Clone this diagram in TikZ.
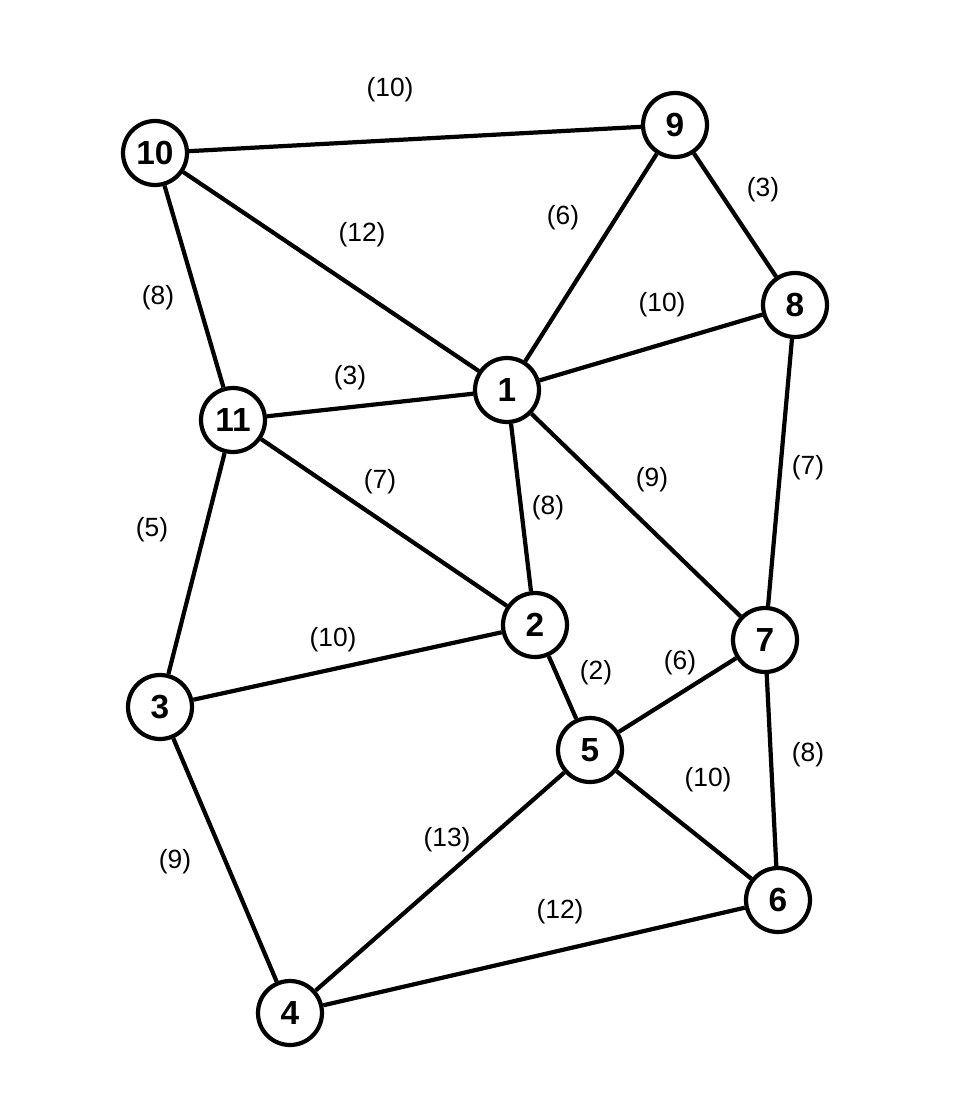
\documentclass[tikz,border=0pt]{standalone}
\usepackage{fontspec}
\setmainfont{Liberation Sans}
\begin{document}
\begin{tikzpicture}[x=0.02cm,y=-0.02cm,
  vtx/.style={circle,draw,line width=2.4pt,minimum size=1.28cm,inner sep=0pt,font=\fontsize{19}{19}\selectfont\bfseries,fill=white},
  lbl/.style={font=\fontsize{15}{15}\selectfont},
  edge/.style={line width=2.4pt}]
\useasboundingbox (0,0) rectangle (963,1095);
\node[vtx] (n10) at (155,153) {10};
\node[vtx] (n9) at (675,125) {9};
\node[vtx] (n8) at (795,305) {8};
\node[vtx] (n1) at (507,390) {1};
\node[vtx] (n11) at (233,420) {11};
\node[vtx] (n2) at (535,625) {2};
\node[vtx] (n7) at (765,640) {7};
\node[vtx] (n3) at (160,707) {3};
\node[vtx] (n5) at (590,750) {5};
\node[vtx] (n6) at (778,900) {6};
\node[vtx] (n4) at (290,1013) {4};
\begin{scope}[on background layer/.style={}]
\foreach \a/\b in {n10/n9,n10/n1,n10/n11,n9/n1,n9/n8,n8/n1,n8/n7,n11/n1,n11/n2,n11/n3,n1/n2,n1/n7,n2/n3,n2/n5,n7/n5,n7/n6,n5/n6,n5/n4,n3/n4,n4/n6}
  \draw[edge] (\a) -- (\b);
\end{scope}
\node[lbl] (l1) at (390,90) {(10)};
\node[lbl] (l2) at (362,235) {(12)};
\node[lbl] (l3) at (563,218) {(6)};
\node[lbl] (l4) at (763,190) {(3)};
\node[lbl] (l5) at (158,298) {(8)};
\node[lbl] (l6) at (662,305) {(10)};
\node[lbl] (l7) at (350,378) {(3)};
\node[lbl] (l8) at (380,482) {(7)};
\node[lbl] (l9) at (548,508) {(8)};
\node[lbl] (l10) at (652,480) {(9)};
\node[lbl] (l11) at (808,468) {(7)};
\node[lbl] (l12) at (152,530) {(5)};
\node[lbl] (l13) at (333,640) {(10)};
\node[lbl] (l14) at (596,673) {(2)};
\node[lbl] (l15) at (680,663) {(6)};
\node[lbl] (l16) at (808,755) {(8)};
\node[lbl] (l17) at (708,780) {(10)};
\node[lbl] (l18) at (447,840) {(13)};
\node[lbl] (l19) at (175,862) {(9)};
\node[lbl] (l20) at (560,912) {(12)};
\end{tikzpicture}
\end{document}
